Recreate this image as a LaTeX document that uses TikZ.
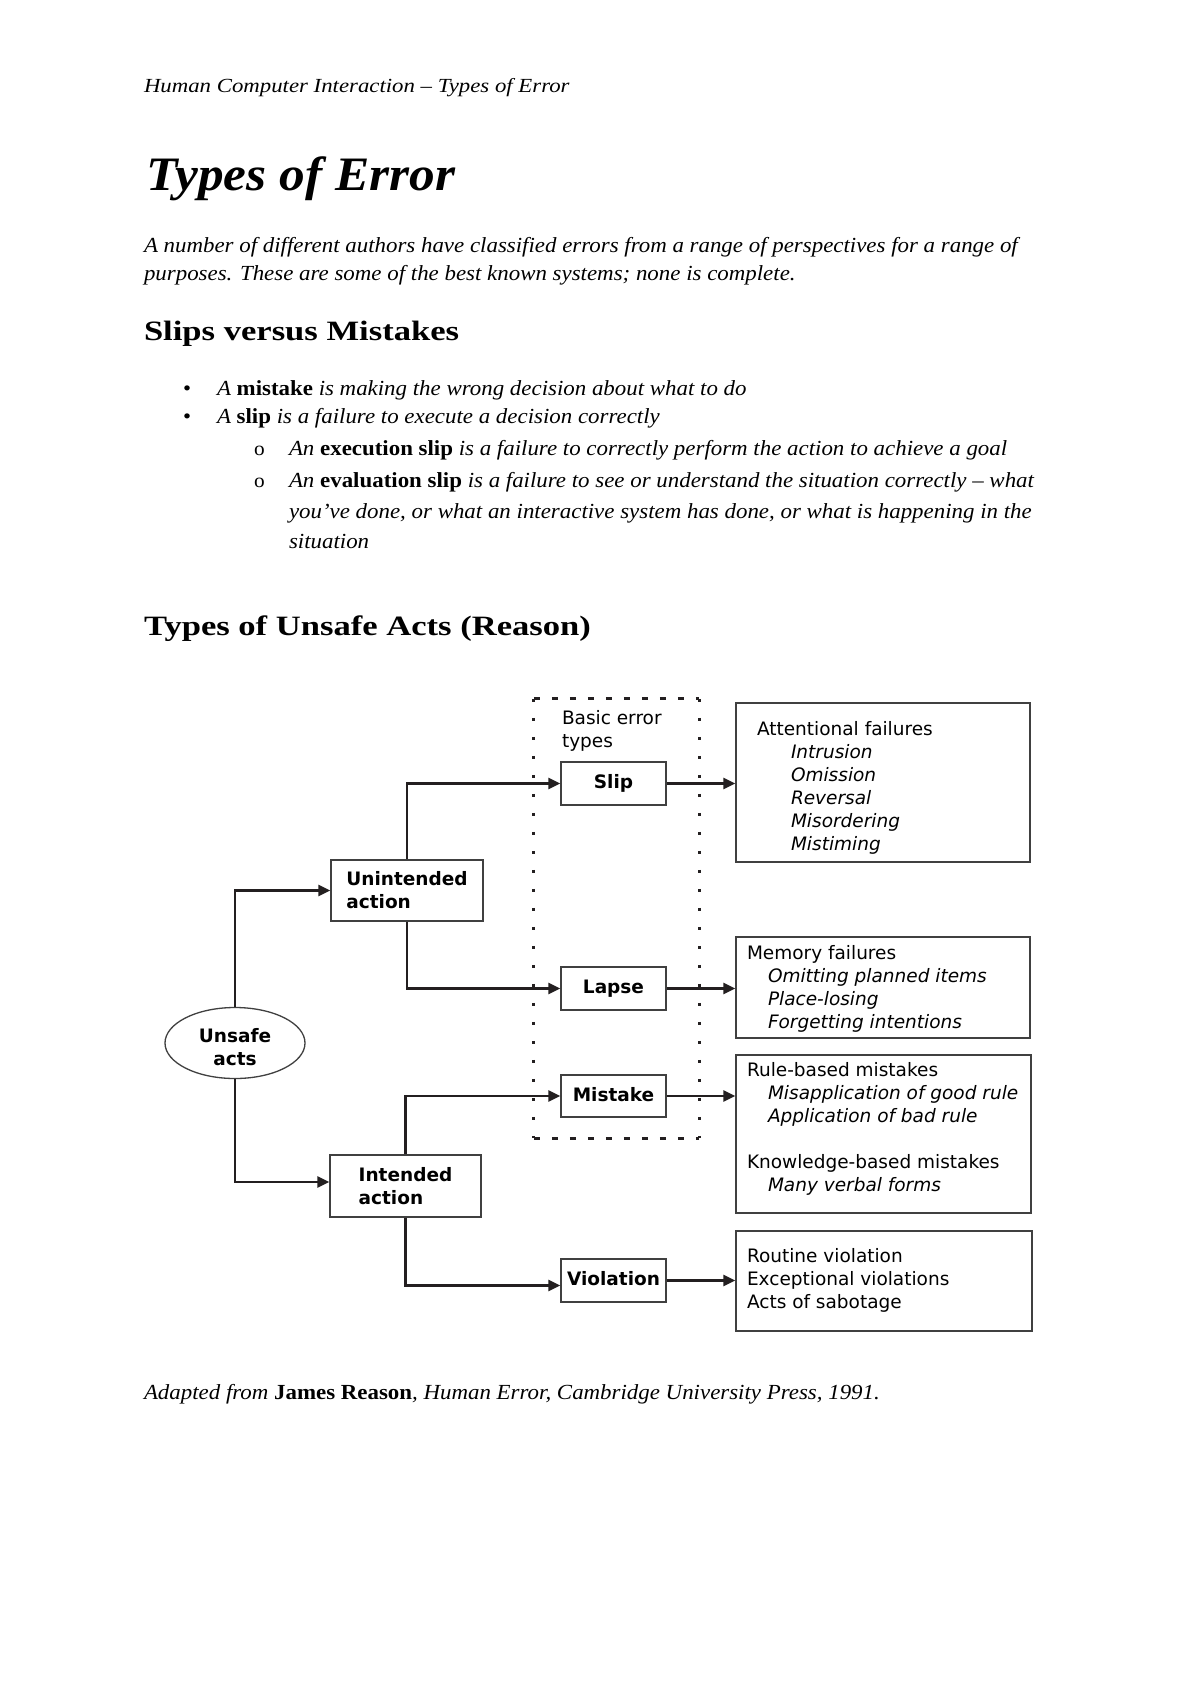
\documentclass[tikz,border=0pt]{standalone}
\usepackage{fontspec}
\setmainfont{Liberation Serif}
\newfontfamily\bodyf[FakeStretch=1.065]{Liberation Serif}
\newfontfamily\hdrf[FakeStretch=1.14]{Liberation Serif}
\newfontfamily\headf[FakeStretch=1.235]{Liberation Serif}
\newfontfamily\titlef[FakeStretch=1.07]{Liberation Serif}
\newfontfamily\dvsans{DejaVu Sans}
\usetikzlibrary{arrows.meta,shapes.geometric}
\newcommand{\myfs}[2]{\fontsize{#1}{#2}\selectfont}
\definecolor{boxc}{HTML}{404040}
\definecolor{linec}{HTML}{231F20}
\begin{document}
\begin{tikzpicture}[x=1pt,y=-1pt,
  doc/.style={anchor=base west, inner sep=0pt, outer sep=0pt},
  dtext/.style={anchor=base west, inner sep=0pt, outer sep=0pt, font=\dvsans\myfs{18.5}{23}},
  actbox/.style={draw=boxc, line width=1.3pt, rectangle, inner sep=0pt, align=left, font=\dvsans\bfseries\myfs{18.5}{23}},
  errbox/.style={draw=boxc, line width=1.3pt, rectangle, inner sep=0pt, minimum width=105pt, text height=14pt, text depth=4pt, font=\dvsans\bfseries\myfs{18.5}{23}},
  resbox/.style={draw=boxc, line width=1.3pt, rectangle, inner sep=0pt},
  conn/.style={draw=linec, line width=2.4pt, -{Triangle[length=12pt,width=11pt]}},
  dotside/.style={draw=linec, line width=3pt, dash pattern=on 3.5pt off 15.5pt},
  dashside/.style={draw=linec, line width=3pt, dash pattern=on 6pt off 12pt}
]
\fill[white] (0,0) rectangle (1200,1698);
\useasboundingbox (0,0) rectangle (1200,1698);

% ---------- document text ----------
\node[doc] (hdr) at (144,92) {\hdrf\myfs{20}{24}\itshape Human Computer Interaction – Types of Error};
\node[doc] (title) at (146,190) {\titlef\myfs{48}{56}\bfseries\itshape Types of Error};
\node[doc] (p1) at (144,252) {\bodyf\myfs{21.5}{28}\itshape A number of different authors have classified errors from a range of perspectives for a range of};
\node[doc] (p2) at (144,280) {\bodyf\myfs{21.5}{28}\itshape purposes. These are some of the best known systems; none is complete.};
\node[doc] (h2) at (144,340) {\headf\myfs{28}{34}\bfseries Slips versus Mistakes};
\node[doc] (b1m) at (183,395) {\bodyf\myfs{21.5}{28}•};
\node[doc] (b1) at (217,395) {\bodyf\myfs{21.5}{28}{\itshape A }{\bfseries mistake} {\itshape is making the wrong decision about what to do}};
\node[doc] (b2m) at (183,423) {\bodyf\myfs{21.5}{28}•};
\node[doc] (b2) at (217,423) {\bodyf\myfs{21.5}{28}{\itshape A }{\bfseries slip} {\itshape is a failure to execute a decision correctly}};
\node[doc] (s1m) at (254,455) {\bodyf\myfs{20}{28}o};
\node[doc] (s1) at (289,455) {\bodyf\myfs{21.5}{28}{\itshape An }{\bfseries execution slip} {\itshape is a failure to correctly perform the action to achieve a goal}};
\node[doc] (s2m) at (254,487) {\bodyf\myfs{20}{28}o};
\node[doc] (s2) at (289,487) {\bodyf\myfs{21.5}{28}{\itshape An }{\bfseries evaluation slip} {\itshape is a failure to see or understand the situation correctly – what}};
\node[doc] (s2b) at (289,518) {\bodyf\myfs{21.5}{28}\itshape you’ve done, or what an interactive system has done, or what is happening in the};
\node[doc] (s2c) at (289,548) {\bodyf\myfs{21.5}{28}\itshape situation};
\node[doc] (h3) at (144,635) {\headf\myfs{28}{34}\bfseries Types of Unsafe Acts (Reason)};
\node[doc] (foot) at (144,1399) {\bodyf\myfs{21.5}{28}{\itshape Adapted from }{\bfseries James Reason}{\itshape , Human Error, Cambridge University Press, 1991.}};

% ---------- diagram ----------
\node[rectangle, minimum width=165pt, minimum height=439pt, inner sep=0pt] (bet) at (616.5,918.5) {};
\draw[dotside] (bet.north west) -- (bet.south west);
\draw[dotside] (bet.north east) -- (bet.south east);
\draw[dashside] (bet.north west) -- (bet.north east);
\draw[dashside] (bet.south west) -- (bet.south east);
\node[dtext] (bett) at (562,724) {\begin{tabular}[t]{@{}l@{}}Basic error\\types\end{tabular}};

\node[ellipse, draw=boxc, line width=1.3pt, inner sep=0pt, minimum width=140pt, minimum height=71pt, align=center, font=\dvsans\bfseries\myfs{18.5}{23}] (ua) at (235,1043) {\rule{0pt}{22pt}Unsafe\\acts};

\node[actbox, minimum width=152pt, minimum height=61pt] (un) at (407,890.5) {Unintended\\action};
\node[actbox, minimum width=151pt, minimum height=62pt] (in) at (405.5,1186) {Intended\\action};

\node[errbox, minimum height=43pt] (slip) at (613.5,783.5) {Slip};
\node[errbox, minimum height=43pt] (lapse) at (613.5,988.5) {Lapse};
\node[errbox, minimum height=42pt] (mist) at (613.5,1096) {Mistake};
\node[errbox, minimum height=43pt] (viol) at (613.5,1280.5) {Violation};

\node[resbox, minimum width=294pt, minimum height=159pt] (att) at (883,782.5) {};
\node[resbox, minimum width=294pt, minimum height=101pt] (mem) at (883,987.5) {};
\node[resbox, minimum width=295pt, minimum height=158pt] (rule) at (883.5,1134) {};
\node[resbox, minimum width=296pt, minimum height=100pt] (vres) at (884,1281) {};

\node[dtext] (attt) at (757,735) {\begin{tabular}[t]{@{}l@{}}Attentional failures\\
\hspace*{34pt}\textit{Intrusion}\\
\hspace*{34pt}\textit{Omission}\\
\hspace*{34pt}\textit{Reversal}\\
\hspace*{34pt}\textit{Misordering}\\
\hspace*{34pt}\textit{Mistiming}\end{tabular}};
\node[dtext] (memt) at (747,959) {\begin{tabular}[t]{@{}l@{}}Memory failures\\
\hspace*{21pt}\textit{Omitting planned items}\\
\hspace*{21pt}\textit{Place-losing}\\
\hspace*{21pt}\textit{Forgetting intentions}\end{tabular}};
\node[dtext] (rulet) at (747,1076) {\begin{tabular}[t]{@{}l@{}}Rule-based mistakes\\
\hspace*{21pt}\textit{Misapplication of good rule}\\
\hspace*{21pt}\textit{Application of bad rule}\\
\\
Knowledge-based mistakes\\
\hspace*{21pt}\textit{Many verbal forms}\end{tabular}};
\node[dtext] (vrest) at (747,1262) {\begin{tabular}[t]{@{}l@{}}Routine violation\\
Exceptional violations\\
Acts of sabotage\end{tabular}};

% connectors
\draw[conn] (ua.north) |- (un.west);
\draw[conn] (ua.south) |- ([yshift=4pt]in.west);
\draw[conn] (un.north) |- (slip.west);
\draw[conn] (un.south) |- (lapse.west);
\draw[conn] (in.north) |- (mist.west);
\draw[conn] (in.south) |- ([yshift=-5pt]viol.west);
\draw[conn] (slip.east) -- (slip.east -| att.west);
\draw[conn] (lapse.east) -- (lapse.east -| mem.west);
\draw[conn] (mist.east) -- (mist.east -| rule.west);
\draw[conn] (viol.east) -- (viol.east -| vres.west);
\end{tikzpicture}
\end{document}
